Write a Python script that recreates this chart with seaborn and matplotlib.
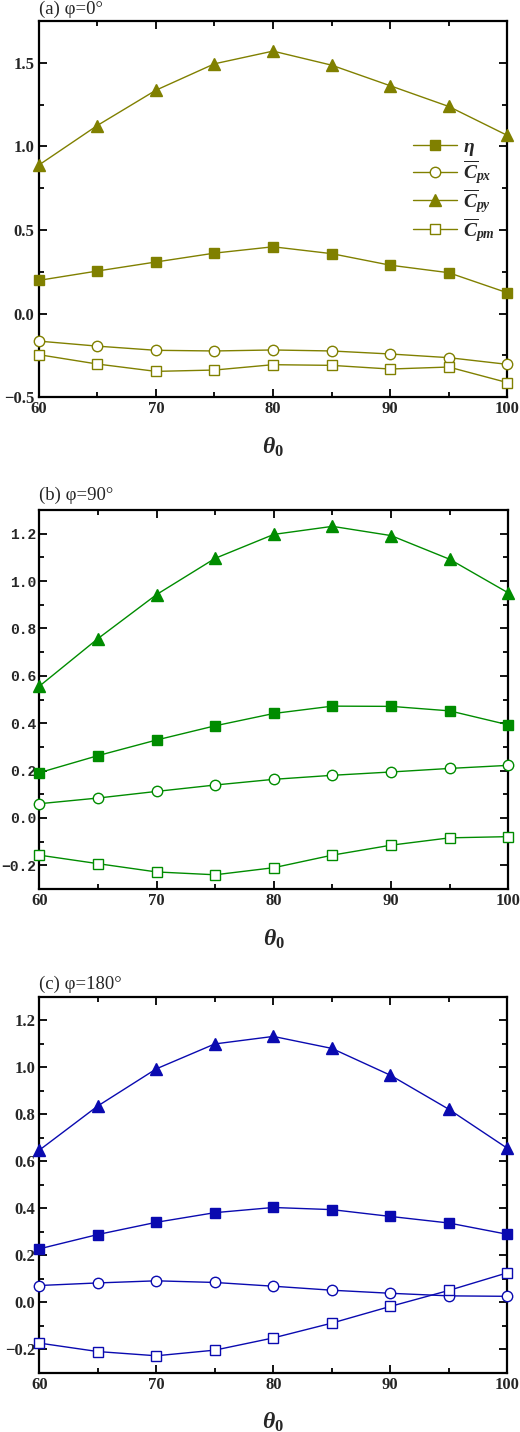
import numpy as np
import pandas as pd
import matplotlib
matplotlib.use("Agg")
import matplotlib.pyplot as plt
from matplotlib.ticker import MultipleLocator
import seaborn as sns

theta = [60, 65, 70, 75, 80, 85, 90, 95, 100]

# panel (a) phi = 0
a_eta = [0.199, 0.255, 0.309, 0.362, 0.400, 0.359, 0.290, 0.245, 0.125]
a_cpx = [-0.164, -0.194, -0.219, -0.223, -0.217, -0.223, -0.241, -0.263, -0.303]
a_cpy = [0.888, 1.125, 1.336, 1.494, 1.570, 1.486, 1.363, 1.239, 1.066]
a_cpm = [-0.245, -0.301, -0.345, -0.337, -0.305, -0.309, -0.331, -0.319, -0.412]

# panel (b) phi = 90
b_eta = [0.191, 0.263, 0.329, 0.389, 0.441, 0.472, 0.471, 0.452, 0.393]
b_cpx = [0.060, 0.084, 0.112, 0.139, 0.163, 0.180, 0.194, 0.209, 0.222]
b_cpy = [0.556, 0.757, 0.943, 1.096, 1.197, 1.231, 1.192, 1.092, 0.950]
b_cpm = [-0.157, -0.193, -0.228, -0.240, -0.210, -0.157, -0.115, -0.084, -0.079]

# panel (c) phi = 180
c_eta = [0.227, 0.288, 0.340, 0.381, 0.403, 0.394, 0.365, 0.337, 0.289]
c_cpx = [0.071, 0.082, 0.091, 0.084, 0.068, 0.051, 0.038, 0.027, 0.025]
c_cpy = [0.647, 0.835, 0.993, 1.099, 1.131, 1.080, 0.966, 0.821, 0.655]
c_cpm = [-0.174, -0.210, -0.228, -0.204, -0.152, -0.089, -0.018, 0.050, 0.125]

series_labels = [r'$\eta$', r'$\overline{C}_{px}$', r'$\overline{C}_{py}$', r'$\overline{C}_{pm}$']
titles = ['(a) φ=0°', '(b) φ=90°', '(c) φ=180°']
panel_colors = ['#808000', '#008C00', '#0A0AB0']

sns.set_style('ticks')
plt.rcParams['font.family'] = ['Liberation Serif', 'DejaVu Serif']
plt.rcParams['mathtext.fontset'] = 'custom'
plt.rcParams['mathtext.rm'] = 'Liberation Serif:bold'
plt.rcParams['mathtext.it'] = 'Liberation Serif:italic:bold'
plt.rcParams['mathtext.bf'] = 'Liberation Serif:bold'

fig = plt.figure(figsize=(5.2, 14.32), dpi=100)
W, H = 520.0, 1432.0
boxes = [(38.7, 21, 507.3, 397.3), (39.3, 510, 508.3, 889), (39.3, 996.7, 507.3, 1372.7)]
title_gap = [3, 6, 4]
ylims = [(-0.5, 1.75), (-0.3, 1.3), (-0.3, 1.3)]
ymaj = [0.5, 0.2, 0.2]
ymin_ = [0.25, 0.1, 0.1]

data = [(a_eta, a_cpx, a_cpy, a_cpm), (b_eta, b_cpx, b_cpy, b_cpm), (c_eta, c_cpx, c_cpy, c_cpm)]
markers = ['s', 'o', '^', 's']
filled = [True, False, True, False]
msizes = [6.5, 7.5, 8.5, 6.5]

for i, (x0, y0, x1, y1) in enumerate(boxes):
    ax = fig.add_axes([x0 / W, 1 - y1 / H, (x1 - x0) / W, (y1 - y0) / H])
    col = panel_colors[i]
    for j, vals in enumerate(data[i]):
        df = pd.DataFrame({'theta': theta, 'v': vals})
        sns.lineplot(data=df, x='theta', y='v', ax=ax, color=col, lw=1.0,
                     marker=markers[j], markersize=msizes[j],
                     markerfacecolor=col if filled[j] else 'white',
                     markeredgecolor=col, markeredgewidth=1.0,
                     label=series_labels[j], clip_on=False, zorder=3)
    ax.set_xlim(60, 100)
    ax.set_ylim(*ylims[i])
    ax.xaxis.set_major_locator(MultipleLocator(10))
    ax.xaxis.set_minor_locator(MultipleLocator(5))
    ax.yaxis.set_major_locator(MultipleLocator(ymaj[i]))
    ax.yaxis.set_minor_locator(MultipleLocator(ymin_[i]))
    ax.tick_params(which='both', direction='in', top=True, right=True, width=1.3, color='black')
    ax.tick_params(which='major', length=6, pad=3)
    ax.tick_params(which='minor', length=3.5)
    if i == 1:
        ax.tick_params(axis='y', which='major', pad=2)
    for s in ax.spines.values():
        s.set_linewidth(1.6)
        s.set_color('black')
    for lab in ax.get_xticklabels():
        lab.set_fontfamily(['Liberation Serif'])
        lab.set_fontweight('bold')
        lab.set_fontsize(12)
    for lab in ax.get_yticklabels():
        if i == 1:
            lab.set_fontfamily(['Liberation Mono', 'DejaVu Sans Mono'])
            lab.set_fontsize(10.5)
        else:
            lab.set_fontfamily(['Liberation Serif'])
            lab.set_fontsize(12)
        lab.set_fontweight('bold')
    ax.set_xlabel(r'$\theta_0$', fontsize=17, labelpad=13)
    ax.set_ylabel('')
    ax.text(0.0, 1 + title_gap[i] / (y1 - y0), titles[i], transform=ax.transAxes,
            ha='left', va='bottom', fontsize=13.5)
    if i == 0:
        leg = ax.legend(loc='upper left', bbox_to_anchor=(0.777, 0.715), frameon=False,
                        fontsize=14, handlelength=2.3, handletextpad=0.3,
                        labelspacing=0.05, borderpad=0)
    else:
        ax.get_legend().remove()

fig.savefig('out.png', dpi=100)
